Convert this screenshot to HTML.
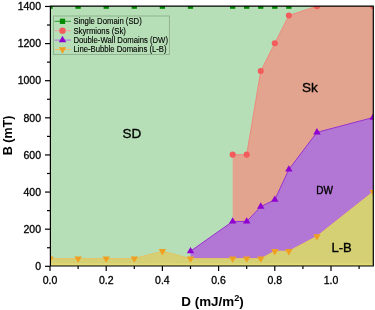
<!DOCTYPE html>
<html><head><meta charset="utf-8"><style>
html,body{margin:0;padding:0;background:#fff;}
body{width:375px;height:310px;overflow:hidden;}
svg{display:block;}
</style></head><body>
<svg width="375" height="310" viewBox="0 0 375 310">
<defs><clipPath id="pc"><rect x="50.0" y="6.0" width="323.0" height="260.0"/></clipPath></defs>
<g clip-path="url(#pc)">
<rect x="50.0" y="6.0" width="323.0" height="260.0" fill="#b7dfb7"/>
<polygon points="232.65,154.64 246.70,154.64 260.75,71.12 274.80,43.28 288.85,15.44 316.95,6.16 373.15,6.16 387.20,6.16 387.20,117.52 373.15,117.52 316.95,132.37 288.85,169.49 274.80,199.74 260.75,206.61 246.70,221.46 232.65,221.46 232.65,154.64" fill="#e2a48e"/>
<polygon points="190.50,251.15 232.65,221.46 246.70,221.46 260.75,206.61 274.80,199.74 288.85,169.49 316.95,132.37 373.15,117.52 387.20,117.52 387.20,191.76 373.15,191.76 316.95,236.30 288.85,251.15 274.80,251.15 260.75,258.58 246.70,258.58 232.65,258.58 190.50,258.58" fill="#b276d4"/>
<polygon points="35.95,258.58 50.00,258.58 78.10,258.58 106.20,258.58 134.30,258.58 162.40,251.15 190.50,258.58 232.65,258.58 246.70,258.58 260.75,258.58 274.80,251.15 288.85,251.15 316.95,236.30 373.15,191.76 387.20,180.62 387.20,269.71 35.95,269.71" fill="#d5d074"/>
<polyline points="232.65,154.64 246.70,154.64 260.75,71.12 274.80,43.28 288.85,15.44 316.95,6.16 373.15,6.16" fill="none" stroke="#ee8a7e" stroke-width="1"/>
<polyline points="190.50,251.15 232.65,221.46 246.70,221.46 260.75,206.61 274.80,199.74 288.85,169.49 316.95,132.37 373.15,117.52" fill="none" stroke="#9a30d0" stroke-width="1"/>
<polyline points="35.95,258.58 50.00,258.58 78.10,258.58 106.20,258.58 134.30,258.58 162.40,251.15 190.50,258.58 232.65,258.58 246.70,258.58 260.75,258.58 274.80,251.15 288.85,251.15 316.95,236.30 373.15,191.76" fill="none" stroke="#e4c462" stroke-width="1"/>
<line x1="50.0" y1="264.2" x2="373.0" y2="264.2" stroke="#eee070" stroke-width="1"/>
<rect x="47.35" y="3.51" width="5.3" height="5.3" fill="#008a00"/>
<rect x="75.45" y="3.51" width="5.3" height="5.3" fill="#008a00"/>
<rect x="103.55" y="3.51" width="5.3" height="5.3" fill="#008a00"/>
<rect x="131.65" y="3.51" width="5.3" height="5.3" fill="#008a00"/>
<rect x="159.75" y="3.51" width="5.3" height="5.3" fill="#008a00"/>
<rect x="187.85" y="3.51" width="5.3" height="5.3" fill="#008a00"/>
<rect x="230.00" y="3.51" width="5.3" height="5.3" fill="#008a00"/>
<rect x="244.05" y="3.51" width="5.3" height="5.3" fill="#008a00"/>
<rect x="258.10" y="3.51" width="5.3" height="5.3" fill="#008a00"/>
<rect x="272.15" y="3.51" width="5.3" height="5.3" fill="#008a00"/>
<rect x="286.20" y="3.51" width="5.3" height="5.3" fill="#008a00"/>
<circle cx="232.65" cy="154.64" r="3.05" fill="#f25c5c"/>
<circle cx="246.70" cy="154.64" r="3.05" fill="#f25c5c"/>
<circle cx="260.75" cy="71.12" r="3.05" fill="#f25c5c"/>
<circle cx="274.80" cy="43.28" r="3.05" fill="#f25c5c"/>
<circle cx="288.85" cy="15.44" r="3.05" fill="#f25c5c"/>
<circle cx="316.95" cy="6.16" r="3.05" fill="#f25c5c"/>
<circle cx="373.15" cy="6.16" r="3.05" fill="#f25c5c"/>
<polygon points="186.80,253.29 194.20,253.29 190.50,246.89" fill="#9000d0"/>
<polygon points="228.95,223.59 236.35,223.59 232.65,217.19" fill="#9000d0"/>
<polygon points="243.00,223.59 250.40,223.59 246.70,217.19" fill="#9000d0"/>
<polygon points="257.05,208.74 264.45,208.74 260.75,202.34" fill="#9000d0"/>
<polygon points="271.10,201.87 278.50,201.87 274.80,195.47" fill="#9000d0"/>
<polygon points="285.15,171.62 292.55,171.62 288.85,165.22" fill="#9000d0"/>
<polygon points="313.25,134.50 320.65,134.50 316.95,128.10" fill="#9000d0"/>
<polygon points="369.45,119.65 376.85,119.65 373.15,113.25" fill="#9000d0"/>
<polygon points="46.30,256.44 53.70,256.44 50.00,262.84" fill="#f0a020"/>
<polygon points="74.40,256.44 81.80,256.44 78.10,262.84" fill="#f0a020"/>
<polygon points="102.50,256.44 109.90,256.44 106.20,262.84" fill="#f0a020"/>
<polygon points="130.60,256.44 138.00,256.44 134.30,262.84" fill="#f0a020"/>
<polygon points="158.70,249.02 166.10,249.02 162.40,255.42" fill="#f0a020"/>
<polygon points="186.80,256.44 194.20,256.44 190.50,262.84" fill="#f0a020"/>
<polygon points="228.95,256.44 236.35,256.44 232.65,262.84" fill="#f0a020"/>
<polygon points="243.00,256.44 250.40,256.44 246.70,262.84" fill="#f0a020"/>
<polygon points="257.05,256.44 264.45,256.44 260.75,262.84" fill="#f0a020"/>
<polygon points="271.10,249.02 278.50,249.02 274.80,255.42" fill="#f0a020"/>
<polygon points="285.15,249.02 292.55,249.02 288.85,255.42" fill="#f0a020"/>
<polygon points="313.25,234.17 320.65,234.17 316.95,240.57" fill="#f0a020"/>
<polygon points="369.45,189.63 376.85,189.63 373.15,196.03" fill="#f0a020"/>
</g>
<g font-family="Liberation Sans, Arial, sans-serif" fill="#000" stroke="#000" stroke-width="0.35">
<text x="122.5" y="138.3" font-size="13.5">SD</text>
<text x="302" y="92" font-size="13.5">Sk</text>
<text x="316.2" y="194" font-size="10">DW</text>
<text x="331.5" y="252.4" font-size="13">L-B</text>
</g>
<rect x="53.5" y="16.0" width="115.9" height="38.4" fill="#b7dfb7" stroke="#8cb08c" stroke-width="0.9"/>
<line x1="54.5" y1="21.30" x2="71" y2="21.30" stroke="#2a9a2a" stroke-width="1"/>
<rect x="59.85" y="18.65" width="5.3" height="5.3" fill="#008a00"/>
<text x="73.4" y="24.20" font-family="Liberation Sans, Arial, sans-serif" font-size="8.5" textLength="68.4" lengthAdjust="spacingAndGlyphs" fill="#000" stroke="#000" stroke-width="0.12">Single Domain (SD)</text>
<line x1="54.5" y1="30.70" x2="71" y2="30.70" stroke="#f0a0a0" stroke-width="1"/>
<circle cx="62.5" cy="30.70" r="3.2" fill="#f25c5c"/>
<text x="73.4" y="33.60" font-family="Liberation Sans, Arial, sans-serif" font-size="8.5" textLength="52.5" lengthAdjust="spacingAndGlyphs" fill="#000" stroke="#000" stroke-width="0.12">Skyrmions (Sk)</text>
<line x1="54.5" y1="40.10" x2="71" y2="40.10" stroke="#b070e0" stroke-width="1"/>
<polygon points="58.80,42.23 66.20,42.23 62.50,35.83" fill="#9000d0"/>
<text x="73.4" y="43.00" font-family="Liberation Sans, Arial, sans-serif" font-size="8.5" textLength="94.6" lengthAdjust="spacingAndGlyphs" fill="#000" stroke="#000" stroke-width="0.12">Double-Wall Domains (DW)</text>
<line x1="54.5" y1="49.50" x2="71" y2="49.50" stroke="#f0c060" stroke-width="1"/>
<polygon points="58.80,47.37 66.20,47.37 62.50,53.77" fill="#f0a020"/>
<text x="73.4" y="52.40" font-family="Liberation Sans, Arial, sans-serif" font-size="8.5" textLength="93.2" lengthAdjust="spacingAndGlyphs" fill="#000" stroke="#000" stroke-width="0.12">Line-Bubble Domains (L-B)</text>
<g font-family="Liberation Sans, Arial, sans-serif" fill="#000" stroke-width="0.3"><path d="M49.8,6.2H373.90000000000003M49.8,266.0H373.90000000000003M50.4,6.2V266.0M373.3,6.2V266.0" fill="none" stroke="#000" stroke-width="1.2"/><line x1="45.0" y1="266.30" x2="50.0" y2="266.30" stroke="#000" stroke-width="1.2"/><text x="41" y="270.00" text-anchor="end" font-size="10.5" stroke="#000">0</text><line x1="45.0" y1="229.18" x2="50.0" y2="229.18" stroke="#000" stroke-width="1.2"/><text x="41" y="232.88" text-anchor="end" font-size="10.5" stroke="#000">200</text><line x1="45.0" y1="192.06" x2="50.0" y2="192.06" stroke="#000" stroke-width="1.2"/><text x="41" y="195.76" text-anchor="end" font-size="10.5" stroke="#000">400</text><line x1="45.0" y1="154.94" x2="50.0" y2="154.94" stroke="#000" stroke-width="1.2"/><text x="41" y="158.64" text-anchor="end" font-size="10.5" stroke="#000">600</text><line x1="45.0" y1="117.82" x2="50.0" y2="117.82" stroke="#000" stroke-width="1.2"/><text x="41" y="121.52" text-anchor="end" font-size="10.5" stroke="#000">800</text><line x1="45.0" y1="80.70" x2="50.0" y2="80.70" stroke="#000" stroke-width="1.2"/><text x="41" y="84.40" text-anchor="end" font-size="10.5" stroke="#000">1000</text><line x1="45.0" y1="43.58" x2="50.0" y2="43.58" stroke="#000" stroke-width="1.2"/><text x="41" y="47.28" text-anchor="end" font-size="10.5" stroke="#000">1200</text><line x1="45.0" y1="6.46" x2="50.0" y2="6.46" stroke="#000" stroke-width="1.2"/><text x="41" y="10.16" text-anchor="end" font-size="10.5" stroke="#000">1400</text><line x1="47.0" y1="247.74" x2="50.0" y2="247.74" stroke="#000" stroke-width="1.2"/><line x1="47.0" y1="210.62" x2="50.0" y2="210.62" stroke="#000" stroke-width="1.2"/><line x1="47.0" y1="173.50" x2="50.0" y2="173.50" stroke="#000" stroke-width="1.2"/><line x1="47.0" y1="136.38" x2="50.0" y2="136.38" stroke="#000" stroke-width="1.2"/><line x1="47.0" y1="99.26" x2="50.0" y2="99.26" stroke="#000" stroke-width="1.2"/><line x1="47.0" y1="62.14" x2="50.0" y2="62.14" stroke="#000" stroke-width="1.2"/><line x1="47.0" y1="25.02" x2="50.0" y2="25.02" stroke="#000" stroke-width="1.2"/><line x1="50.00" y1="266.0" x2="50.00" y2="271.0" stroke="#000" stroke-width="1.2"/><text x="50.00" y="283.7" text-anchor="middle" font-size="10.5" stroke="#000">0.0</text><line x1="106.20" y1="266.0" x2="106.20" y2="271.0" stroke="#000" stroke-width="1.2"/><text x="106.20" y="283.7" text-anchor="middle" font-size="10.5" stroke="#000">0.2</text><line x1="162.40" y1="266.0" x2="162.40" y2="271.0" stroke="#000" stroke-width="1.2"/><text x="162.40" y="283.7" text-anchor="middle" font-size="10.5" stroke="#000">0.4</text><line x1="218.60" y1="266.0" x2="218.60" y2="271.0" stroke="#000" stroke-width="1.2"/><text x="218.60" y="283.7" text-anchor="middle" font-size="10.5" stroke="#000">0.6</text><line x1="274.80" y1="266.0" x2="274.80" y2="271.0" stroke="#000" stroke-width="1.2"/><text x="274.80" y="283.7" text-anchor="middle" font-size="10.5" stroke="#000">0.8</text><line x1="331.00" y1="266.0" x2="331.00" y2="271.0" stroke="#000" stroke-width="1.2"/><text x="331.00" y="283.7" text-anchor="middle" font-size="10.5" stroke="#000">1.0</text><line x1="78.10" y1="266.0" x2="78.10" y2="269.0" stroke="#000" stroke-width="1.2"/><line x1="134.30" y1="266.0" x2="134.30" y2="269.0" stroke="#000" stroke-width="1.2"/><line x1="190.50" y1="266.0" x2="190.50" y2="269.0" stroke="#000" stroke-width="1.2"/><line x1="246.70" y1="266.0" x2="246.70" y2="269.0" stroke="#000" stroke-width="1.2"/><line x1="302.90" y1="266.0" x2="302.90" y2="269.0" stroke="#000" stroke-width="1.2"/><line x1="359.10" y1="266.0" x2="359.10" y2="269.0" stroke="#000" stroke-width="1.2"/><text x="181.3" y="305.8" font-size="13.4" font-weight="bold">D (mJ/m<tspan font-size="9.2" dy="-5">2</tspan><tspan dy="5">)</tspan></text><text transform="translate(12.4,135.5) rotate(-90)" text-anchor="middle" font-size="12.5" font-weight="bold">B (mT)</text></g>
</svg>
</body></html>
